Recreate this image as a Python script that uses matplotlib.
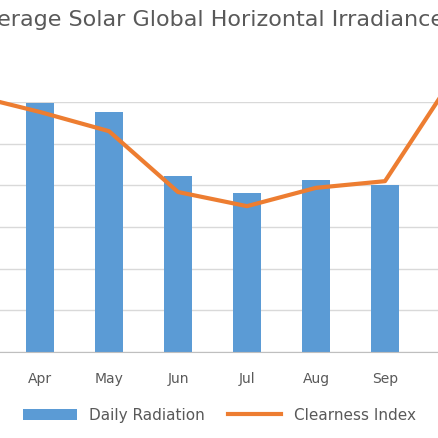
import matplotlib
matplotlib.use("Agg")
import matplotlib.pyplot as plt

months = ["Jan","Feb","Mar","Apr","May","Jun","Jul","Aug","Sep","Oct","Nov","Dec"]
radiation = [3.2, 4.3, 5.4, 5.97, 5.76, 4.22, 3.81, 4.12, 4.0, 4.6, 3.6, 3.0]
clearness = [0.55, 0.60, 0.617, 0.576, 0.530, 0.384, 0.350, 0.394, 0.410, 0.662, 0.60, 0.55]

fig = plt.figure(figsize=(4.39, 4.39), dpi=100)
ax = fig.add_axes([0, (439-353)/439, 1, 250/439])
x = list(range(len(months)))
xmin = 3 - 40/69
ax.bar(x, radiation, width=0.4, color="#5B9BD5", label="Daily Radiation", zorder=2)
ax.set_ylim(0, 6)
ax.set_yticks([0,1,2,3,4,5,6])
ax.yaxis.grid(True, color="#D9D9D9", lw=1, zorder=0)
ax.set_axisbelow(True)
for s in ["top","left","right"]:
    ax.spines[s].set_visible(False)
ax.spines["bottom"].set_color("#BFBFBF")
ax.tick_params(axis="y", length=0, labelleft=False)
ax.tick_params(axis="x", length=0, colors="#595959", labelsize=10, pad=14)
ax.set_xticks(x)
ax.set_xticklabels(months)

ax2 = ax.twinx()
ln, = ax2.plot(x, clearness, color="#ED7D31", lw=3, label="Clearness Index", zorder=3)
ax2.set_ylim(0, 0.6)
ax2.axis("off")
ln.set_clip_box(fig.bbox)
ax.set_xlim(xmin, xmin + 439/69)
ax2.set_xlim(xmin, xmin + 439/69)

h1, l1 = ax.get_legend_handles_labels()
fig.legend(h1 + [ln], l1 + ["Clearness Index"], loc="center", bbox_to_anchor=(0.5, (439-416)/439),
           ncol=2, frameon=False, fontsize=11, labelcolor="#595959", handlelength=3.5, columnspacing=1.5)
fig.text(-30/439, 1 - 20/439, "Average Solar Global Horizontal Irradiance", fontsize=16,
         color="#595959", ha="left", va="center")
fig.savefig("out.png", dpi=100)
